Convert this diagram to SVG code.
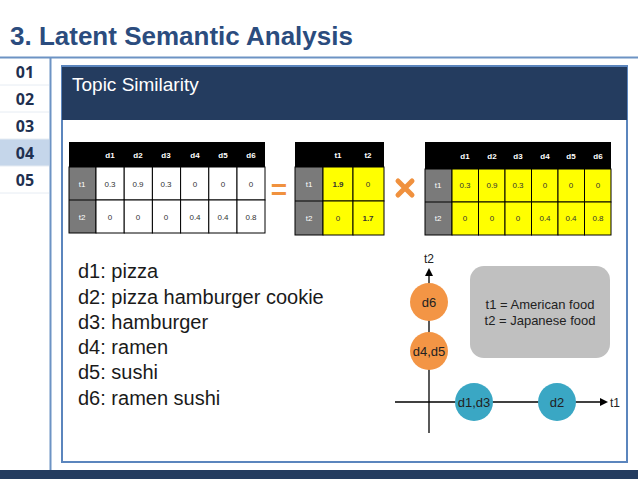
<svg xmlns="http://www.w3.org/2000/svg" width="638" height="479" viewBox="0 0 638 479">
<style>
text{font-family:"Liberation Sans",Arial,sans-serif}
.tb{font-family:"Open Sans","DejaVu Sans",sans-serif;font-size:8px;text-anchor:middle}
.h{fill:#fff;font-weight:bold}
.g{fill:#fff}
.c{fill:#333}
.num{font-family:"Open Sans",sans-serif;font-size:16px;font-weight:bold;fill:#1f3050;text-anchor:middle}
.li{font-size:20px;fill:#1a1a1a}
.cl{font-size:13px;fill:#222;text-anchor:middle}
.cell{stroke:#000;stroke-width:1}
</style>
<defs><marker id="ar" markerWidth="8" markerHeight="8" refX="6" refY="4" orient="auto" markerUnits="userSpaceOnUse"><path d="M0,0 L8,4 L0,8 z" fill="#000"/></marker></defs>
<rect width="638" height="479" fill="#fff"/>
<text x="10" y="45" font-size="26" font-weight="bold" fill="#2b4c7e">3. Latent Semantic Analysis</text>
<line x1="0" y1="57.5" x2="638" y2="57.5" stroke="#6d93c4" stroke-width="2"/>
<line x1="50.5" y1="57" x2="50.5" y2="479" stroke="#6d93c4" stroke-width="2"/>
<g id="sidebar">
<rect x="0" y="139" width="49" height="27" fill="#c5d6ea"/>
<g stroke="#e6ecf3"><line x1="0" y1="85" x2="49" y2="85"/><line x1="0" y1="112" x2="49" y2="112"/><line x1="0" y1="139" x2="49" y2="139"/><line x1="0" y1="166" x2="49" y2="166"/><line x1="0" y1="193" x2="49" y2="193"/></g>
<text class="num" x="25" y="78">01</text><text class="num" x="25" y="105">02</text><text class="num" x="25" y="132">03</text><text class="num" x="25" y="159">04</text><text class="num" x="25" y="186">05</text>
</g>
<rect x="62" y="66" width="565" height="396" fill="none" stroke="#5b85bd" stroke-width="2"/>
<rect x="62" y="67" width="565" height="53" fill="#243c5f"/>
<text x="72" y="91" font-size="19" fill="#fff">Topic Similarity</text>
<rect x="0" y="470" width="638" height="9" fill="#243c5f"/>

<g id="table1" class="tb">
<rect x="69" y="142" width="196" height="25" fill="#000"/>
<rect x="69" y="167" width="27" height="66" fill="#7a7a7a" class="cell"/>
<g fill="#fff" class="cell">
<rect x="96" y="167" width="28.2" height="33"/><rect x="124.2" y="167" width="28.2" height="33"/><rect x="152.4" y="167" width="28.2" height="33"/><rect x="180.6" y="167" width="28.2" height="33"/><rect x="208.8" y="167" width="28.2" height="33"/><rect x="237" y="167" width="28" height="33"/>
<rect x="96" y="200" width="28.2" height="33"/><rect x="124.2" y="200" width="28.2" height="33"/><rect x="152.4" y="200" width="28.2" height="33"/><rect x="180.6" y="200" width="28.2" height="33"/><rect x="208.8" y="200" width="28.2" height="33"/><rect x="237" y="200" width="28" height="33"/>
</g>
<line x1="69" y1="200" x2="96" y2="200" stroke="#000"/>
<text class="h" x="110" y="158">d1</text><text class="h" x="138" y="158">d2</text><text class="h" x="166" y="158">d3</text><text class="h" x="195" y="158">d4</text><text class="h" x="223" y="158">d5</text><text class="h" x="251" y="158">d6</text>
<text class="g" x="82" y="187">t1</text><text class="g" x="82" y="220">t2</text>
<text class="c" x="110" y="187">0.3</text><text class="c" x="138" y="187">0.9</text><text class="c" x="166" y="187">0.3</text><text class="c" x="195" y="187">0</text><text class="c" x="223" y="187">0</text><text class="c" x="251" y="187">0</text>
<text class="c" x="110" y="220">0</text><text class="c" x="138" y="220">0</text><text class="c" x="166" y="220">0</text><text class="c" x="195" y="220">0.4</text><text class="c" x="223" y="220">0.4</text><text class="c" x="251" y="220">0.8</text>
</g>
<text x="279" y="199" font-size="28" font-weight="bold" fill="#f0913e" text-anchor="middle" font-family="Liberation Sans">=</text>

<g id="table2" class="tb">
<rect x="295" y="142" width="89" height="25" fill="#000"/>
<rect x="295" y="167" width="28" height="68" fill="#7a7a7a" class="cell"/>
<g fill="#ffff00" class="cell">
<rect x="323" y="167" width="30" height="34"/><rect x="353" y="167" width="31" height="34"/>
<rect x="323" y="201" width="30" height="34"/><rect x="353" y="201" width="31" height="34"/>
</g>
<line x1="295" y1="201" x2="323" y2="201" stroke="#000"/>
<text class="h" x="338" y="158">t1</text><text class="h" x="368" y="158">t2</text>
<text class="g" x="309" y="187">t1</text><text class="g" x="309" y="221">t2</text>
<text class="c" x="338" y="187" font-weight="bold" fill="#000">1.9</text><text class="c" x="368" y="187">0</text>
<text class="c" x="338" y="221">0</text><text class="c" x="368" y="221" font-weight="bold" fill="#000">1.7</text>
</g>
<path d="M398,181 L412,195 M412,181 L398,195" stroke="#f0913e" stroke-width="5" stroke-linecap="round"/>

<g id="table3" class="tb" font-size="7">
<rect x="425" y="142" width="186" height="27" fill="#000"/>
<rect x="425" y="169" width="27" height="66" fill="#7a7a7a" class="cell"/>
<g fill="#ffff00" class="cell">
<rect x="452" y="169" width="26.5" height="33"/><rect x="478.5" y="169" width="26.5" height="33"/><rect x="505" y="169" width="26.5" height="33"/><rect x="531.5" y="169" width="26.5" height="33"/><rect x="558" y="169" width="26.5" height="33"/><rect x="584.5" y="169" width="26.5" height="33"/>
<rect x="452" y="202" width="26.5" height="33"/><rect x="478.5" y="202" width="26.5" height="33"/><rect x="505" y="202" width="26.5" height="33"/><rect x="531.5" y="202" width="26.5" height="33"/><rect x="558" y="202" width="26.5" height="33"/><rect x="584.5" y="202" width="26.5" height="33"/>
</g>
<line x1="425" y1="202" x2="452" y2="202" stroke="#000"/>
<text class="h" x="465" y="159">d1</text><text class="h" x="492" y="159">d2</text><text class="h" x="518" y="159">d3</text><text class="h" x="545" y="159">d4</text><text class="h" x="571" y="159">d5</text><text class="h" x="598" y="159">d6</text>
<text class="g" x="438" y="188">t1</text><text class="g" x="438" y="221">t2</text>
<text class="c" x="465" y="188">0.3</text><text class="c" x="492" y="188">0.9</text><text class="c" x="518" y="188">0.3</text><text class="c" x="545" y="188">0</text><text class="c" x="571" y="188">0</text><text class="c" x="598" y="188">0</text>
<text class="c" x="465" y="221">0</text><text class="c" x="492" y="221">0</text><text class="c" x="518" y="221">0</text><text class="c" x="545" y="221">0.4</text><text class="c" x="571" y="221">0.4</text><text class="c" x="598" y="221">0.8</text>
</g>

<g id="list">
<text class="li" x="78" y="278">d1: pizza</text>
<text class="li" x="78" y="304">d2: pizza hamburger cookie</text>
<text class="li" x="78" y="329">d3: hamburger</text>
<text class="li" x="78" y="354">d4: ramen</text>
<text class="li" x="78" y="379">d5: sushi</text>
<text class="li" x="78" y="405">d6: ramen sushi</text>
</g>

<g id="connectors" stroke="#000" stroke-width="1.3">
<line x1="429" y1="433" x2="429" y2="270" marker-end="url(#ar)"/>
<line x1="395" y1="402" x2="606" y2="402" marker-end="url(#ar)"/>
</g>
<text x="429" y="263" font-size="12" fill="#222" text-anchor="middle">t2</text>
<text x="615" y="407" font-size="12" fill="#222" text-anchor="middle">t1</text>
<g id="legend"><rect x="470" y="266" width="140" height="92" rx="14" fill="#c0c0c0"/>
<text class="cl" x="540" y="309">t1 = American food</text><text class="cl" x="540" y="325">t2 = Japanese food</text></g>
<g id="d6"><circle cx="429" cy="302" r="19" fill="#f39545"/><text class="cl" x="429" y="307" font-size="14">d6</text></g>
<g id="d45"><circle cx="429" cy="351" r="19" fill="#f39545"/><text class="cl" x="429" y="356" font-size="12">d4,d5</text></g>
<g id="d13"><circle cx="474" cy="402" r="19" fill="#3aa7c4"/><text class="cl" x="474" y="407" font-size="12">d1,d3</text></g>
<g id="d2"><circle cx="557" cy="402" r="19" fill="#3aa7c4"/><text class="cl" x="557" y="407" font-size="14">d2</text></g>
</svg>
